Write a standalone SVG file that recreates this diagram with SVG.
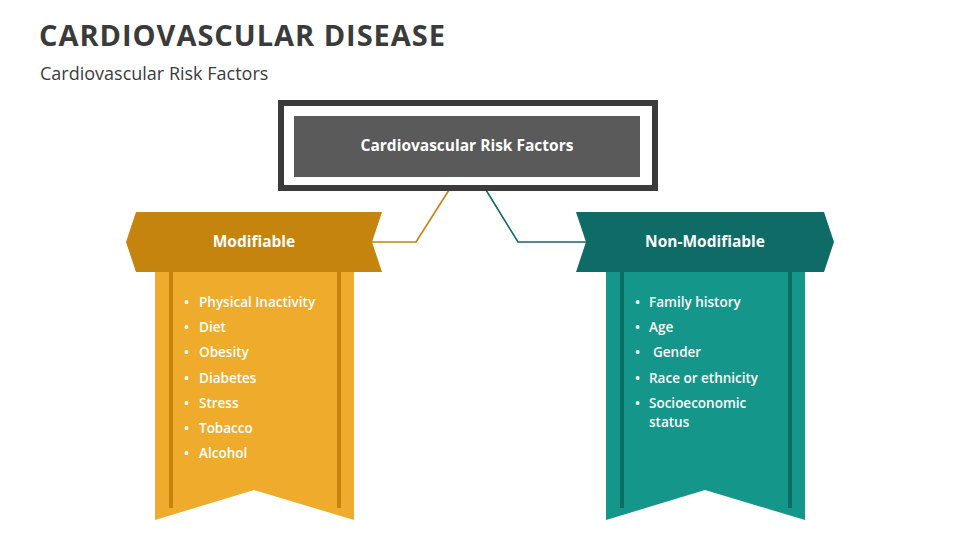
<svg xmlns="http://www.w3.org/2000/svg" width="960" height="540" viewBox="0 0 960 540">
<style>
.t{font-family:"Open Sans","Liberation Sans",sans-serif;fill:#fff;font-weight:600}
.li{font-size:13.5px}
.h{font-size:15.5px;font-weight:700;text-anchor:middle}
</style>
<rect width="960" height="540" fill="#fff"/>
<text x="39" y="46" font-family="Open Sans,Liberation Sans,sans-serif" font-weight="700" font-size="29" fill="#3b3b3b" textLength="406">CARDIOVASCULAR DISEASE</text>
<text x="40" y="80" font-family="Open Sans,Liberation Sans,sans-serif" font-size="18" fill="#3b3b3b">Cardiovascular Risk Factors</text>
<g id="connectors" fill="none" stroke-width="1.6">
<polyline points="449,190 416,242 372,242" stroke="#C4840E"/>
<polyline points="486,190 518,242 586,242" stroke="#0E6B65"/>
</g>
<g id="root">
<rect x="281" y="103" width="374" height="85" fill="#fff" stroke="#3b3b3b" stroke-width="6"/>
<rect x="294" y="116" width="346" height="61" fill="#5a5a5a"/>
<text class="t h" x="467" y="151" font-size="16">Cardiovascular Risk Factors</text>
</g>
<g id="modifiable">
<polygon points="155,272 354,272 354,520 254,490 155,520" fill="#EFAB2B"/>
<rect x="169" y="272" width="4" height="236" fill="#C4840E"/>
<rect x="337" y="272" width="4" height="236" fill="#C4840E"/>
<polygon points="126,242 136,212 382,212 372,242 382,272 136,272" fill="#C4840E"/>
<text class="t h" x="254" y="247">Modifiable</text>
<g class="t li">
<text x="184" y="307">•</text><text x="199" y="307">Physical Inactivity</text>
<text x="184" y="332">•</text><text x="199" y="332">Diet</text>
<text x="184" y="357">•</text><text x="199" y="357">Obesity</text>
<text x="184" y="383">•</text><text x="199" y="383">Diabetes</text>
<text x="184" y="408">•</text><text x="199" y="408">Stress</text>
<text x="184" y="433">•</text><text x="199" y="433">Tobacco</text>
<text x="184" y="458">•</text><text x="199" y="458">Alcohol</text>
</g>
</g>
<g id="nonmodifiable">
<polygon points="606,272 805,272 805,520 705,490 606,520" fill="#14968A"/>
<rect x="620" y="272" width="4" height="236" fill="#0E6B65"/>
<rect x="788" y="272" width="4" height="236" fill="#0E6B65"/>
<polygon points="576,212 824,212 834,242 824,272 576,272 586,242" fill="#0E6B65"/>
<text class="t h" x="705" y="247">Non-Modifiable</text>
<g class="t li">
<text x="635" y="307">•</text><text x="649" y="307">Family history</text>
<text x="635" y="332">•</text><text x="649" y="332">Age</text>
<text x="635" y="357">•</text><text x="653" y="357">Gender</text>
<text x="635" y="383">•</text><text x="649" y="383">Race or ethnicity</text>
<text x="635" y="408">•</text><text x="649" y="408">Socioeconomic</text>
<text x="649" y="427">status</text>
</g>
</g>
</svg>
